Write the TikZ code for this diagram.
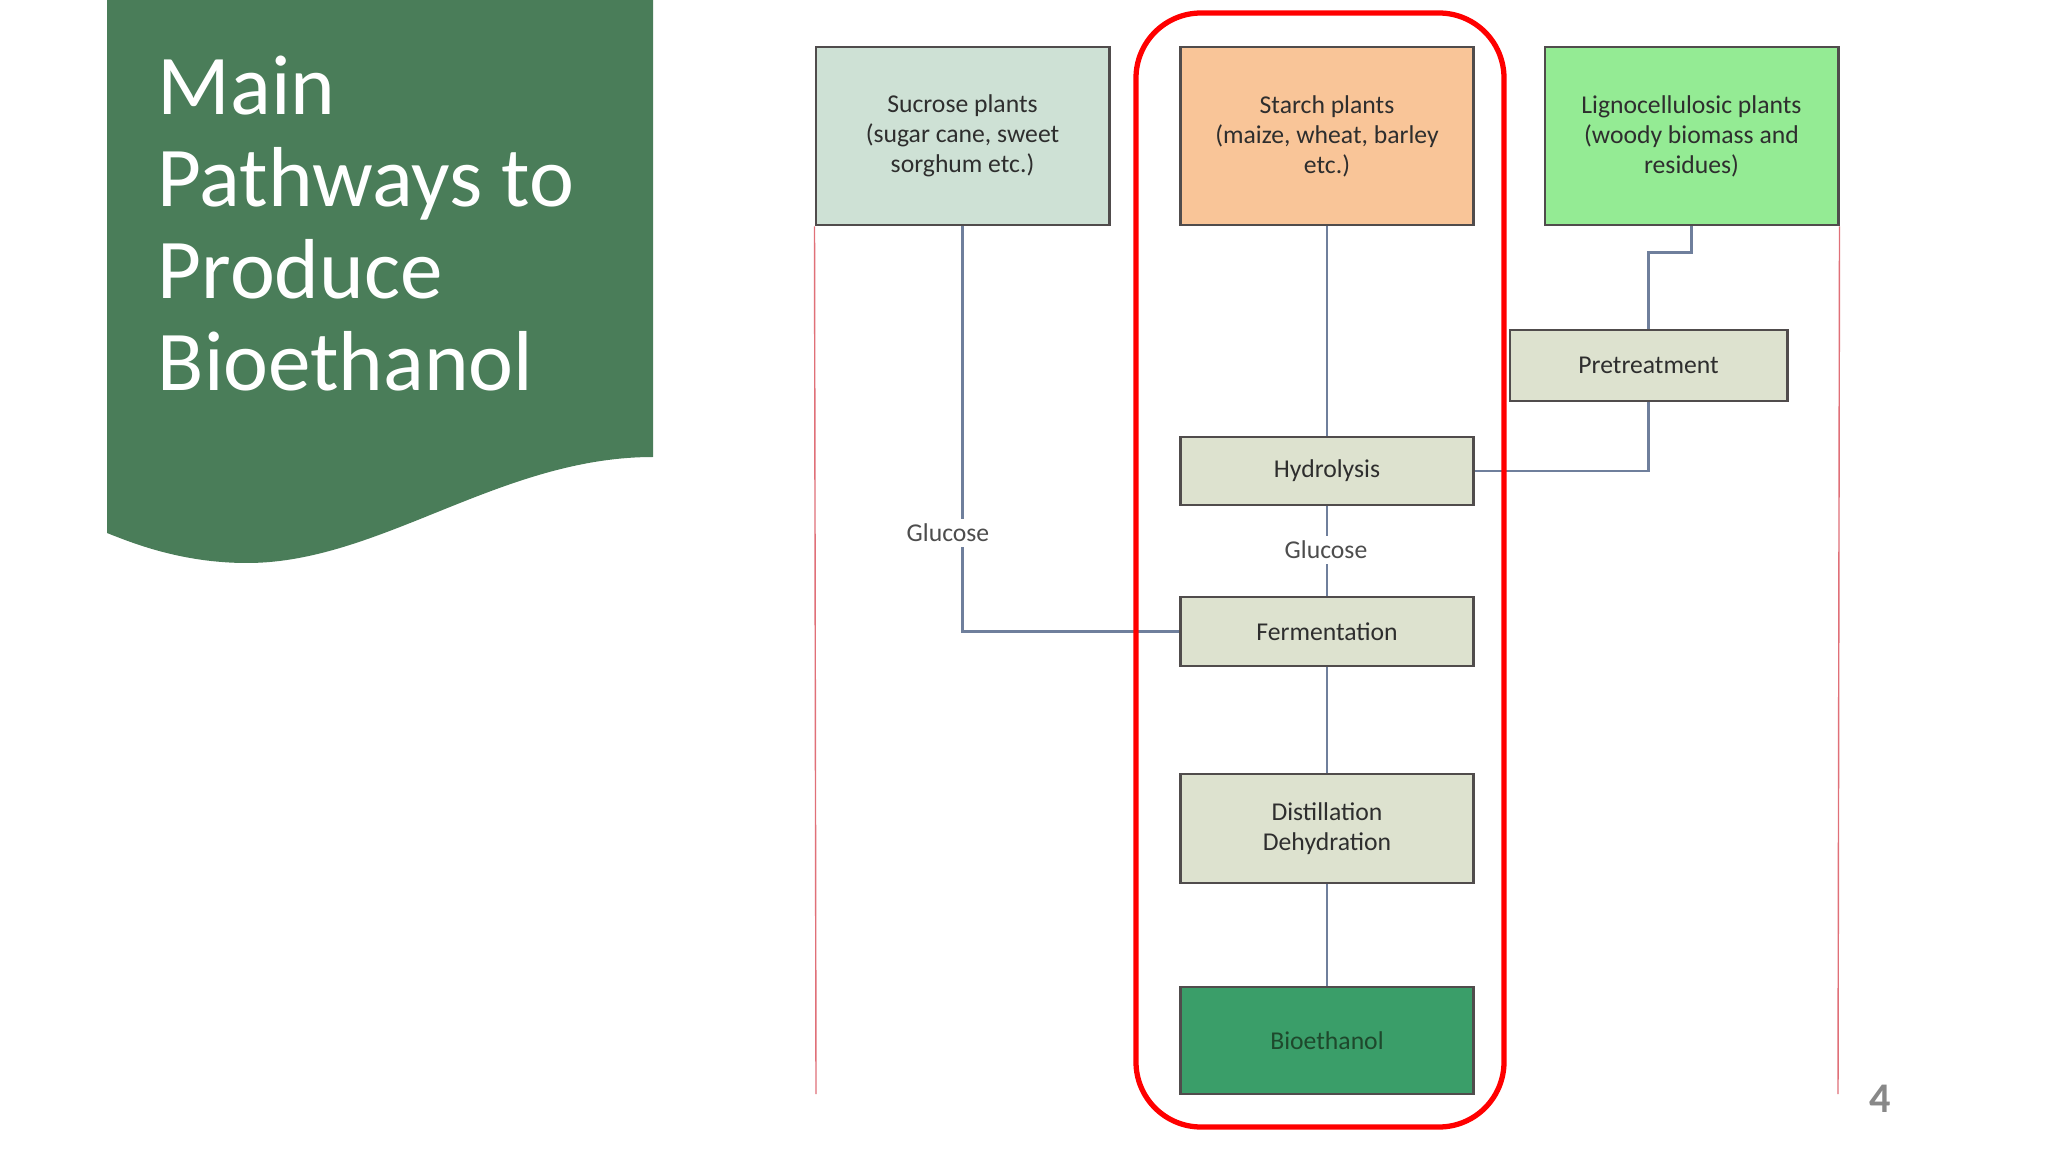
\documentclass[tikz,border=0pt]{standalone}
\usepackage{fontspec}
\setmainfont{Carlito}
\usetikzlibrary{positioning}

\definecolor{panelgreen}{RGB}{74,125,89}
\definecolor{sucrosefill}{RGB}{206,225,213}
\definecolor{starchfill}{RGB}{249,197,152}
\definecolor{lignofill}{RGB}{148,235,148}
\definecolor{stepfill}{RGB}{221,226,207}
\definecolor{ethanolfill}{RGB}{58,158,105}
\definecolor{ethanoltext}{RGB}{30,72,44}
\definecolor{boxline}{RGB}{80,76,76}
\definecolor{boxtext}{RGB}{46,46,46}
\definecolor{linkblue}{RGB}{111,127,156}
\definecolor{edgered}{RGB}{224,112,120}
\definecolor{pagegray}{RGB}{136,136,136}

\newcommand{\boxfont}{\fontsize{7.3}{8.5}\selectfont}

\begin{document}
\begin{tikzpicture}[x=0.01cm,y=-0.01cm,
    plantbox/.style={draw=boxline, line width=0.8pt, minimum width=2.93cm,
      minimum height=1.78cm, inner sep=0pt, align=center, font=\boxfont, text=boxtext},
    stepbox/.style={draw=boxline, line width=0.8pt, minimum width=2.93cm,
      inner sep=0pt, align=center, font=\boxfont, text=boxtext, fill=stepfill},
    link/.style={draw=linkblue, line width=0.6pt},
    sugarlabel/.style={fill=white, inner sep=1.5pt, font=\boxfont, text=boxtext!85}]
    \useasboundingbox (0,0) rectangle (2048,1152);
    \fill[white] (0,0) rectangle (2048,1152);

    % Title panel
    \fill[panelgreen] (107,0) -- (653,0) -- (653,457)
      .. controls (500,457) and (380,563) .. (247,563)
      .. controls (180,563) and (130,542) .. (107,533) -- cycle;
    \node[anchor=base west, inner sep=0pt, align=left, text=white,
      font=\fontsize{24.2}{26.2}\selectfont] (title) at (157,391)
      {Main\\Pathways to\\Produce\\Bioethanol};

    % Feedstocks
    \node[plantbox, fill=sucrosefill] (sucrose) at (962.5,136)
      {Sucrose plants\\(sugar cane, sweet\\sorghum etc.)};
    \node[plantbox, fill=starchfill] (starch) at (1327,136)
      {Starch plants\\(maize, wheat, barley\\etc.)};
    \node[plantbox, fill=lignofill] (ligno) at (1691.5,136)
      {Lignocellulosic plants\\(woody biomass and\\residues)};

    % Process steps
    \node[stepbox, minimum width=2.77cm, minimum height=0.71cm] (pretreat) at (1648.5,365.5) {Pretreatment};
    \node[stepbox, minimum height=0.68cm] (hydro) at (1327,471) {Hydrolysis};
    \node[stepbox, minimum height=0.69cm] (ferment) at (1327,631.5) {Fermentation};
    \node[stepbox, minimum height=1.09cm] (distill) at (1327,828.5) {Distillation\\Dehydration};
    \node[stepbox, minimum height=1.07cm, fill=ethanolfill, text=ethanoltext] (bioeth) at (1327,1040.5) {Bioethanol};

    % Side edges of the figure
    \coordinate (lbot) at (816,1094);
    \coordinate (rbot) at (1838,1094);
    \draw[edgered, line width=0.4pt] (sucrose.south west) -- (lbot);
    \draw[edgered, line width=0.4pt] (ligno.south east) -- (rbot);

    % Connections
    \draw[link] (sucrose.south) |- (ferment.west);
    \draw[link] (starch.south) -- (hydro.north);
    \draw[link] (ligno.south) -- ++(0,26) -| (pretreat.north);
    \draw[link] (pretreat.south) |- (hydro.east);
    \draw[link] (hydro.south) -- (ferment.north);
    \draw[link] (ferment.south) -- (distill.north);
    \draw[link] (distill.south) -- (bioeth.north);

    % Glucose labels
    \node[sugarlabel] (glu1) at (948,533) {Glucose};
    \node[sugarlabel] (glu2) at (1326,550) {Glucose};

    % Highlight of the starch route
    \draw[red, line width=1.5pt, rounded corners=0.65cm] (1136,13) rectangle (1504,1127);

    % Page number
    \node[text=pagegray, font=\fontsize{12}{14}\selectfont\bfseries] (page) at (1880,1099) {4};
\end{tikzpicture}
\end{document}
